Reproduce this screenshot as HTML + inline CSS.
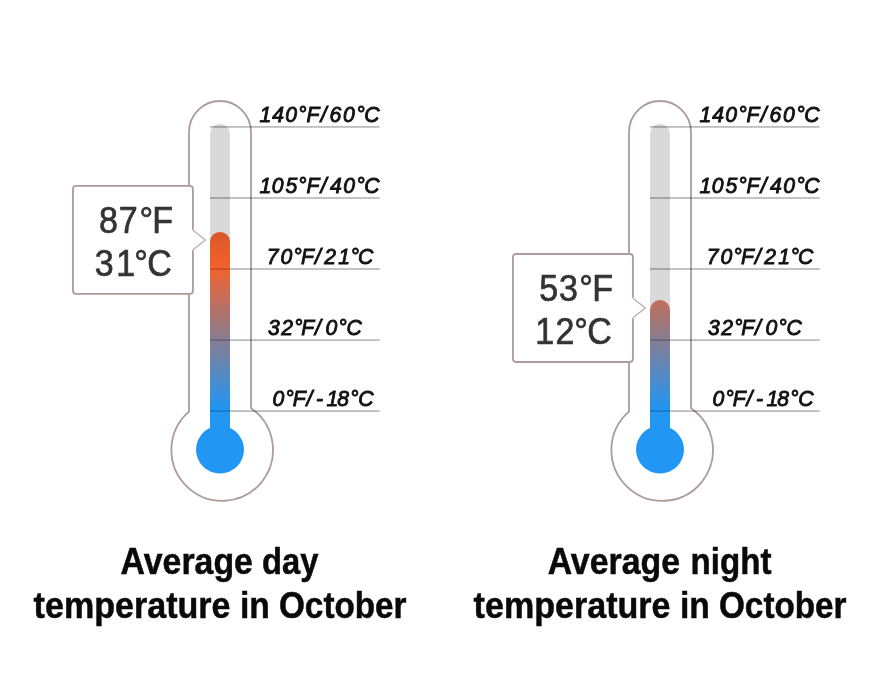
<!DOCTYPE html>
<html><head><meta charset="utf-8"><title>Average temperature in October</title>
<style>
html,body{margin:0;padding:0;background:#fff;}
svg{display:block}
text{font-family:"Liberation Sans",sans-serif;}
.lab{font-size:21.8px;font-style:italic;fill:#111;stroke:#111;stroke-width:0.9px;}
.big{font-size:37px;fill:#333;stroke:#333;stroke-width:0.7px;}
.ttl{font-size:36.5px;font-weight:bold;fill:#0a0a0a;stroke:#0a0a0a;stroke-width:0.5px;}
</style></head><body>
<svg width="880" height="680" viewBox="0 0 880 680">
<defs>
<linearGradient id="g" gradientUnits="userSpaceOnUse" x1="0" y1="267" x2="0" y2="409">
<stop offset="0" stop-color="#f4622d"/>
<stop offset="1" stop-color="#2196f3"/>
</linearGradient>
<linearGradient id="sh" gradientUnits="userSpaceOnUse" x1="0" y1="230" x2="0" y2="268">
<stop offset="0" stop-color="#000" stop-opacity="0.12"/>
<stop offset="1" stop-color="#000" stop-opacity="0"/>
</linearGradient>
</defs>
<rect width="880" height="680" fill="#fff"/>
<g transform="translate(0,0)">
<path d="M189 411.6 L189 132 A31 31 0 0 1 251 132 L251 408.2 A50.8 50.8 0 1 1 189 411.6 Z" fill="#fff" stroke="#ae9b9b" stroke-width="1.8" stroke-linejoin="round"/>
<path d="M210 440 L210 134 A10 10 0 0 1 230 134 L230 440 Z" fill="#d9d9d9"/>
<path d="M210 440 L210 241.9 A10 10 0 0 1 230 241.9 L230 440 Z" fill="url(#g)"/>
<path d="M210 440 L210 241.9 A10 10 0 0 1 230 241.9 L230 440 Z" fill="url(#sh)"/>
<circle cx="220" cy="449.6" r="24" fill="#2196f3"/>
<rect x="210" y="126.05" width="169.6" height="1.7" fill="#000" fill-opacity="0.28"/>
<rect x="210" y="197.15" width="169.6" height="1.7" fill="#000" fill-opacity="0.28"/>
<rect x="210" y="268.15" width="20" height="1.7" fill="#000" fill-opacity="0.2"/>
<rect x="230" y="268.15" width="149.6" height="1.7" fill="#000" fill-opacity="0.28"/>
<rect x="210" y="339.25" width="20" height="1.7" fill="#000" fill-opacity="0.2"/>
<rect x="230" y="339.25" width="149.6" height="1.7" fill="#000" fill-opacity="0.28"/>
<rect x="210" y="410.25" width="20" height="1.7" fill="#000" fill-opacity="0.2"/>
<rect x="230" y="410.25" width="149.6" height="1.7" fill="#000" fill-opacity="0.28"/>
<rect x="72.95" y="185.95" width="120.0" height="108.0" rx="3.2" fill="#fff" stroke="#ae9b9b" stroke-width="1.8"/>
<path d="M191.75 229.75 L193.25 229.75 L205.54999999999998 239.95 L193.25 250.14999999999998 L191.75 250.14999999999998 Z" fill="#fff"/>
<path d="M192.95 230.25 L205.35 239.95 L192.95 249.64999999999998" fill="none" stroke="#b9adad" stroke-width="1.3" stroke-linejoin="miter"/>
</g>
<text class="lab" transform="scale(0.97,1)" x="267.6 280.7 294.2 307.3 315.9 330.7 339.7 353.6 367.2 375.5" y="122.1">140°F/60°C</text>
<text class="lab" transform="scale(0.97,1)" x="267.6 280.2 294.3 307.3 315.9 330.7 340.3 353.9 367.2 375.5" y="193.2">105°F/40°C</text>
<text class="lab" transform="scale(0.97,1)" x="275.0 289.1 302.3 310.4 324.8 334.2 348.8 361.4 369.1" y="264.2">70°F/21°C</text>
<text class="lab" transform="scale(0.97,1)" x="276.3 289.9 303.0 310.6 324.8 335.5 348.7 357.2" y="335.3">32°F/0°C</text>
<text class="lab" transform="scale(0.97,1)" x="280.9 294.1 301.9 315.9 325.9 336.7 347.6 360.9 369.4" y="406.1">0°F/-18°C</text>
<text class="big" transform="scale(0.92,1)" x="107.6 129.0 151.7 165.4" y="232.7">87°F</text>
<text class="big" transform="scale(0.92,1)" x="103.0 126.3 145.9 160.1" y="275.7">31°C</text>
<g transform="translate(440,0)">
<path d="M189 411.6 L189 132 A31 31 0 0 1 251 132 L251 408.2 A50.8 50.8 0 1 1 189 411.6 Z" fill="#fff" stroke="#ae9b9b" stroke-width="1.8" stroke-linejoin="round"/>
<path d="M210 440 L210 134 A10 10 0 0 1 230 134 L230 440 Z" fill="#d9d9d9"/>
<path d="M210 440 L210 310.0 A10 10 0 0 1 230 310.0 L230 440 Z" fill="url(#g)"/>
<path d="M210 440 L210 310.0 A10 10 0 0 1 230 310.0 L230 440 Z" fill="url(#sh)"/>
<circle cx="220" cy="449.6" r="24" fill="#2196f3"/>
<rect x="210" y="126.05" width="169.6" height="1.7" fill="#000" fill-opacity="0.28"/>
<rect x="210" y="197.15" width="169.6" height="1.7" fill="#000" fill-opacity="0.28"/>
<rect x="210" y="268.15" width="169.6" height="1.7" fill="#000" fill-opacity="0.28"/>
<rect x="210" y="339.25" width="20" height="1.7" fill="#000" fill-opacity="0.2"/>
<rect x="230" y="339.25" width="149.6" height="1.7" fill="#000" fill-opacity="0.28"/>
<rect x="210" y="410.25" width="20" height="1.7" fill="#000" fill-opacity="0.2"/>
<rect x="230" y="410.25" width="149.6" height="1.7" fill="#000" fill-opacity="0.28"/>
<rect x="72.95" y="254.0" width="120.0" height="108.0" rx="3.2" fill="#fff" stroke="#ae9b9b" stroke-width="1.8"/>
<path d="M191.75 297.8 L193.25 297.8 L205.54999999999998 308.0 L193.25 318.2 L191.75 318.2 Z" fill="#fff"/>
<path d="M192.95 298.3 L205.35 308.0 L192.95 317.7" fill="none" stroke="#b9adad" stroke-width="1.3" stroke-linejoin="miter"/>
</g>
<text class="lab" transform="scale(0.97,1)" x="721.2 734.4 747.8 761.0 769.5 784.3 793.3 807.2 820.9 829.1" y="122.1">140°F/60°C</text>
<text class="lab" transform="scale(0.97,1)" x="721.2 733.8 748.0 761.0 769.5 784.3 793.9 807.5 820.9 829.1" y="193.2">105°F/40°C</text>
<text class="lab" transform="scale(0.97,1)" x="728.6 742.7 756.0 764.0 778.4 787.8 802.4 815.0 822.7" y="264.2">70°F/21°C</text>
<text class="lab" transform="scale(0.97,1)" x="730.0 743.6 756.6 764.3 778.4 789.1 802.3 810.8" y="335.3">32°F/0°C</text>
<text class="lab" transform="scale(0.97,1)" x="734.5 747.7 755.5 769.5 779.5 790.3 801.3 814.5 823.0" y="406.1">0°F/-18°C</text>
<text class="big" transform="scale(0.92,1)" x="586.1 607.6 629.7 643.7" y="300.8">53°F</text>
<text class="big" transform="scale(0.92,1)" x="581.7 603.9 624.1 638.4" y="343.8">12°C</text>
<text class="ttl" x="120.58" y="573.8" textLength="132.29" lengthAdjust="spacingAndGlyphs">Average</text>
<text class="ttl" x="261.99" y="573.8" textLength="56.38" lengthAdjust="spacingAndGlyphs">day</text>
<text class="ttl" x="33.60" y="617.5" textLength="196.91" lengthAdjust="spacingAndGlyphs">temperature</text>
<text class="ttl" x="240.00" y="617.5" textLength="29.88" lengthAdjust="spacingAndGlyphs">in</text>
<text class="ttl" x="278.99" y="617.5" textLength="127.60" lengthAdjust="spacingAndGlyphs">October</text>
<text class="ttl" x="547.66" y="573.8" textLength="132.42" lengthAdjust="spacingAndGlyphs">Average</text>
<text class="ttl" x="690.62" y="573.8" textLength="80.89" lengthAdjust="spacingAndGlyphs">night</text>
<text class="ttl" x="473.60" y="617.5" textLength="196.91" lengthAdjust="spacingAndGlyphs">temperature</text>
<text class="ttl" x="680.00" y="617.5" textLength="29.88" lengthAdjust="spacingAndGlyphs">in</text>
<text class="ttl" x="718.99" y="617.5" textLength="127.60" lengthAdjust="spacingAndGlyphs">October</text>
</svg>
</body></html>
